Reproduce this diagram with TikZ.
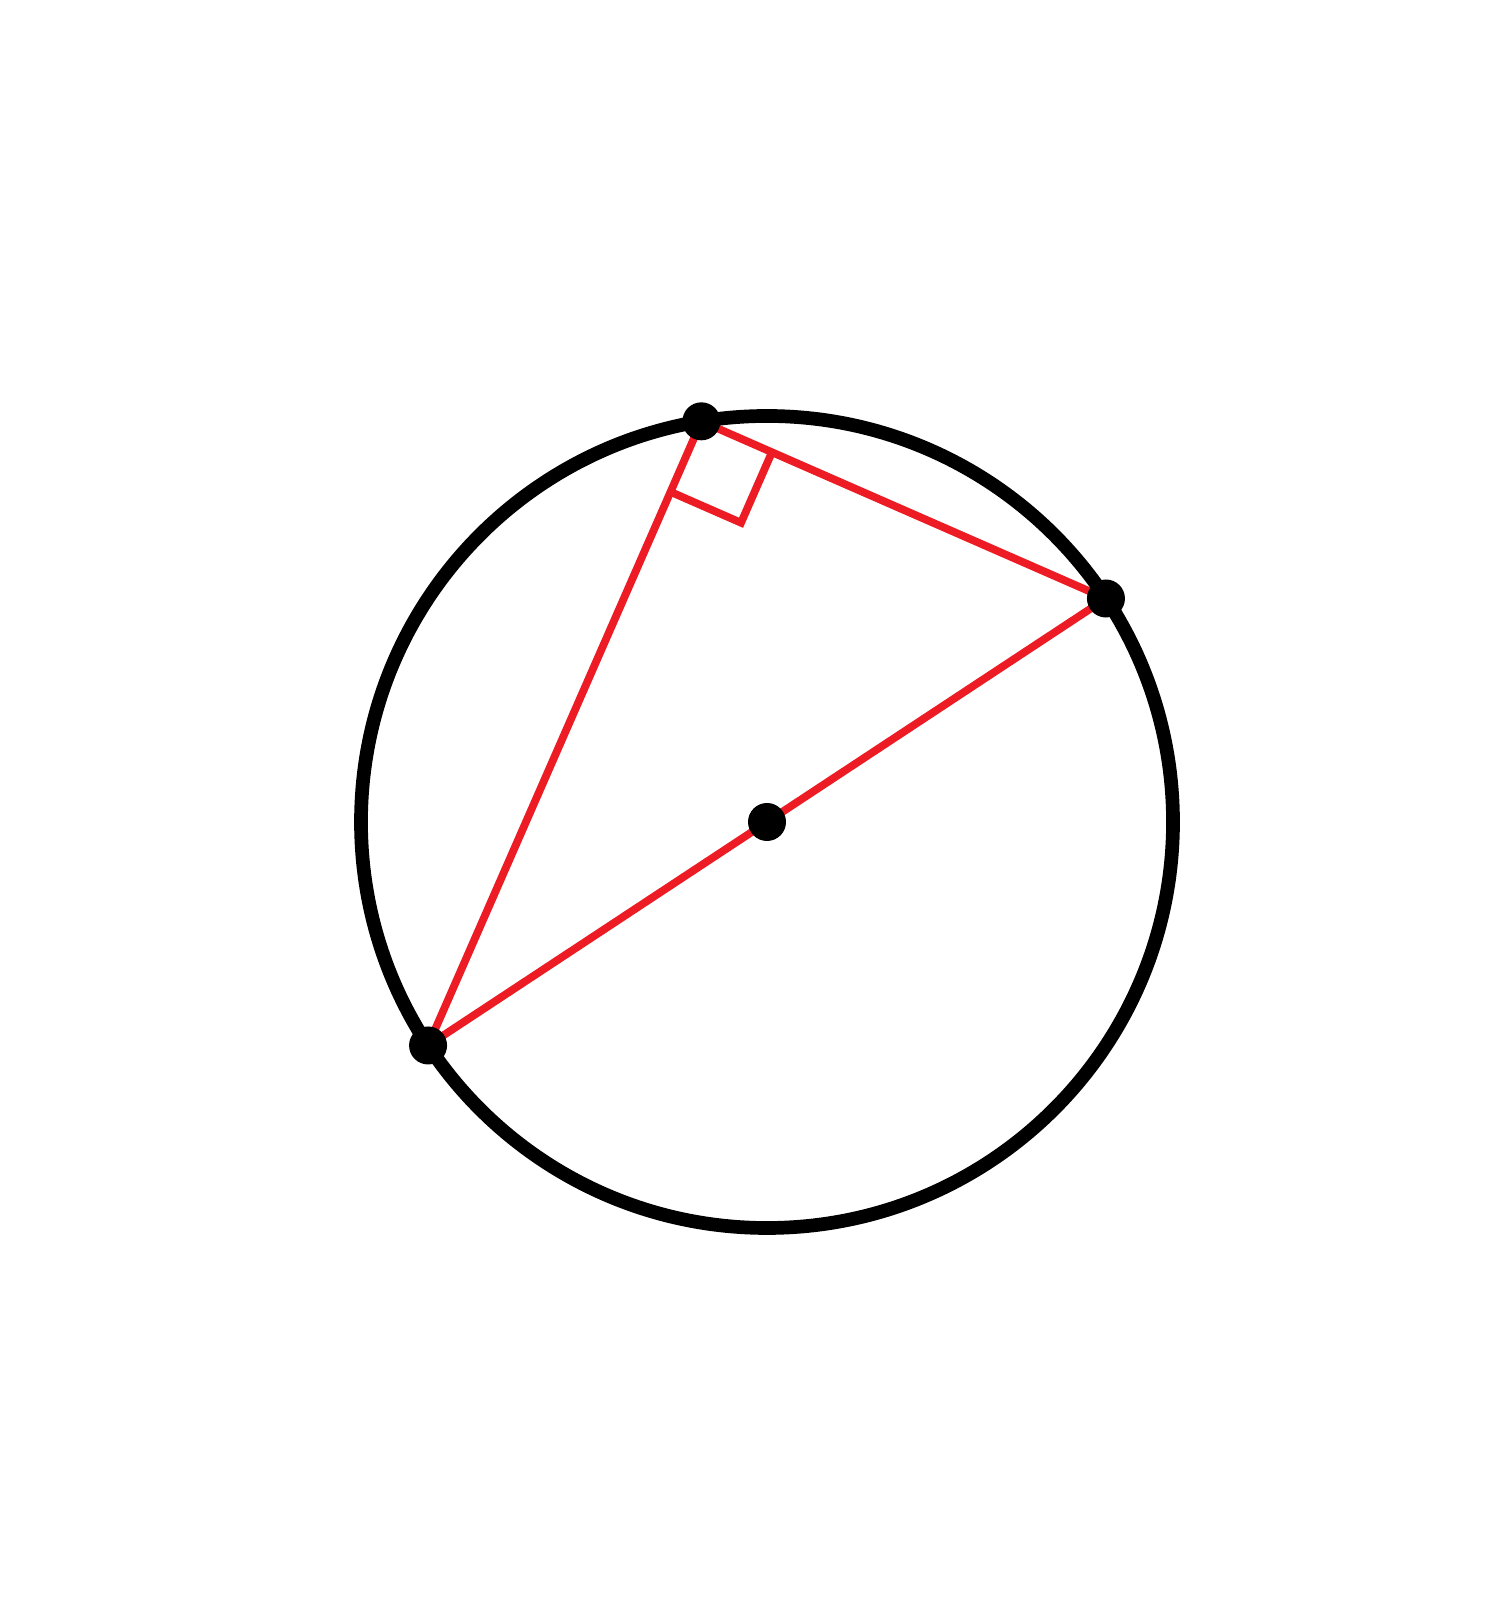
\documentclass[tikz,border=0pt]{standalone}
\usetikzlibrary{calc}

\definecolor{chordred}{HTML}{ED1C24}

\begin{document}
\begin{tikzpicture}
                \tikzstyle{chord} = [draw=chordred, line width=2.2pt, line join=miter]
                \tikzstyle{dot} = [fill=black]
                \useasboundingbox[fill=white] (0, 0) rectangle (15, 16);
                \coordinate (O) at (7.67, 7.78);
                \coordinate (A) at ($(O) + (99.3:4.06)$);
                \coordinate (B) at ($(O) + (33.4:4.06)$);
                \coordinate (C) at ($(O) + (213.4:4.06)$);
                \draw[chord] (C) -- (A) -- (B) -- (C);
                \coordinate (ac) at ($(A)!0.77cm!(C)$);
                \coordinate (ab) at ($(A)!0.77cm!(B)$);
                \draw[chord] (ac) -- ($(ac) + (ab) - (A)$) -- (ab);
                \draw[line width=3.9pt] (O) circle (4.06);
                \fill[dot] (O) circle (0.19);
                \fill[dot] (A) circle (0.19);
                \fill[dot] (B) circle (0.19);
                \fill[dot] (C) circle (0.19);
            \end{tikzpicture}
\end{document}
